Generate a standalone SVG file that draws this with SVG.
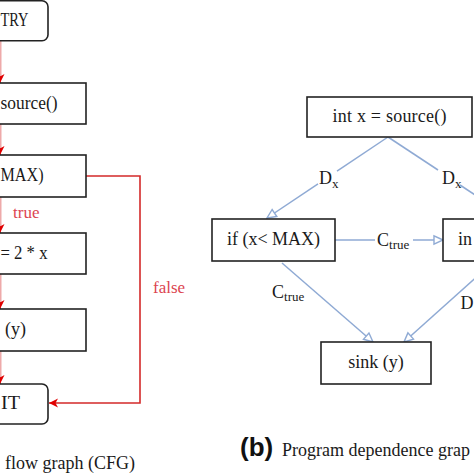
<svg xmlns="http://www.w3.org/2000/svg" width="474" height="474" viewBox="0 0 474 474">
  <style>
    .box { fill: #ffffff; stroke: #222222; stroke-width: 1.6; }
    .t { font-family: "Liberation Serif", "DejaVu Serif", serif; font-size: 18px; fill: #1a1a1a; }
    .sub { font-size: 13px; }
    .red { fill: none; stroke: #d42a2a; stroke-width: 1.6; }
    .redv { fill: none; stroke: #eeaaaa; stroke-width: 3; }
    .redl { font-family: "Liberation Serif", "DejaVu Serif", serif; font-size: 17px; fill: #dc4450; }
    .blue { fill: none; stroke: #8faad4; stroke-width: 1.5; }
  </style>
  <defs>
    <marker id="stealth" viewBox="-11 -6 12 12" refX="0" refY="0" markerWidth="12" markerHeight="12" markerUnits="userSpaceOnUse" orient="auto">
      <path d="M0,0 L-9,-4.5 L-6.5,0 L-9,4.5 Z" fill="#e00000"/>
    </marker>
    <marker id="hollow" viewBox="-11 -6 12 12" refX="0" refY="0" markerWidth="12" markerHeight="12" markerUnits="userSpaceOnUse" orient="auto">
      <path d="M0,0 L-9,-4.2 L-9,4.2 Z" fill="#ffffff" stroke="#8faad4" stroke-width="1.4"/>
    </marker>
  </defs>
  <rect width="474" height="474" fill="#ffffff"/>

  <g id="connectors">
    <!-- CFG flow (red) -->
    <line class="redv" x1="0" y1="41" x2="0" y2="78"/>
    <line class="redv" x1="0" y1="124" x2="0" y2="150"/>
    <line class="redv" x1="0" y1="197" x2="0" y2="228"/>
    <line class="redv" x1="0" y1="274" x2="0" y2="304"/>
    <line class="redv" x1="0" y1="351" x2="0" y2="379"/>
    <line class="red" x1="0" y1="76" x2="0" y2="83" stroke="none" marker-end="url(#stealth)"/>
    <line class="red" x1="0" y1="148" x2="0" y2="155" stroke="none" marker-end="url(#stealth)"/>
    <line class="red" x1="0" y1="226" x2="0" y2="233" stroke="none" marker-end="url(#stealth)"/>
    <line class="red" x1="0" y1="302" x2="0" y2="309" stroke="none" marker-end="url(#stealth)"/>
    <line class="red" x1="0" y1="377" x2="0" y2="384" stroke="none" marker-end="url(#stealth)"/>
    <polyline class="red" points="86,176 140,176 140,403 49,403" marker-end="url(#stealth)"/>
    <text class="redl" x="13" y="218">true</text>
    <text class="redl" x="153" y="293">false</text>

    <!-- PDG (blue) -->
    <line class="blue" x1="388" y1="137" x2="337" y2="171.1"/>
    <line class="blue" x1="318" y1="183.9" x2="267" y2="218" marker-end="url(#hollow)"/>
    <text class="t" x="319" y="184">D<tspan class="sub" dy="4">x</tspan></text>

    <line class="blue" x1="388" y1="137" x2="438" y2="170"/>
    <line class="blue" x1="460" y1="185" x2="510" y2="218"/>
    <text class="t" x="442" y="184">D<tspan class="sub" dy="4">x</tspan></text>

    <line class="blue" x1="335" y1="240" x2="375" y2="240"/>
    <line class="blue" x1="413" y1="240" x2="443" y2="240" marker-end="url(#hollow)"/>
    <text class="t" x="377" y="246">C<tspan class="sub" dy="3">true</tspan></text>

    <line class="blue" x1="282" y1="263" x2="373" y2="342" marker-end="url(#hollow)"/>
    <text class="t" x="272" y="298">C<tspan class="sub" dy="3">true</tspan></text>

    <line class="blue" x1="500" y1="256" x2="404" y2="342" marker-end="url(#hollow)"/>
    <text class="t" x="460.5" y="309">D</text>
  </g>

  <!-- CFG nodes (cropped at the left edge) -->
  <g id="cfg-entry">
    <rect class="box" x="-60" y="0.8" width="108" height="40" rx="6"/>
    <text class="t" x="0.5" y="25.5" textLength="28" lengthAdjust="spacingAndGlyphs">TRY</text>
  </g>
  <g id="cfg-source">
    <rect class="box" x="-80" y="83" width="166" height="41"/>
    <text class="t" x="0.5" y="108.5" textLength="57" lengthAdjust="spacingAndGlyphs">source()</text>
  </g>
  <g id="cfg-if">
    <rect class="box" x="-80" y="155" width="166" height="42"/>
    <text class="t" x="0.5" y="181" textLength="43" lengthAdjust="spacingAndGlyphs">MAX)</text>
  </g>
  <g id="cfg-assign">
    <rect class="box" x="-80" y="233" width="166" height="41"/>
    <text class="t" x="0.5" y="258.5" textLength="47" lengthAdjust="spacingAndGlyphs">= 2 * x</text>
  </g>
  <g id="cfg-sink">
    <rect class="box" x="-80" y="309" width="166" height="42"/>
    <text class="t" x="5" y="335">(y)</text>
  </g>
  <g id="cfg-exit">
    <rect class="box" x="-60" y="384" width="108" height="40" rx="6"/>
    <text class="t" x="1" y="409" textLength="19" lengthAdjust="spacingAndGlyphs">IT</text>
  </g>
  <text class="t" x="5" y="469">flow graph (CFG)</text>

  <!-- PDG nodes -->
  <g id="pdg-source">
    <rect class="box" x="307" y="97" width="165" height="40"/>
    <text class="t" x="389.5" y="122" text-anchor="middle" textLength="114" lengthAdjust="spacing">int x = source()</text>
  </g>
  <g id="pdg-if">
    <rect class="box" x="212" y="219" width="123" height="42"/>
    <text class="t" x="273.5" y="245" text-anchor="middle">if (x&lt; MAX)</text>
  </g>
  <g id="pdg-assign">
    <rect class="box" x="443" y="219" width="130" height="42"/>
    <text class="t" x="458" y="245">in</text>
  </g>
  <g id="pdg-sink">
    <rect class="box" x="321" y="342" width="110" height="42"/>
    <text class="t" x="376" y="368" text-anchor="middle">sink (y)</text>
  </g>
  <text x="240" y="456" font-family="Liberation Sans, Arial, sans-serif" font-size="26" font-weight="bold" fill="#111111">(b)</text>
  <text class="t" x="282" y="456">Program dependence grap</text>
</svg>
